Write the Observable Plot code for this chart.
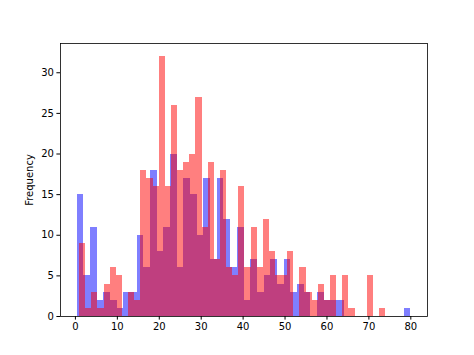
<!DOCTYPE html>
<html><head><meta charset="utf-8">
<script src="https://cdn.jsdelivr.net/npm/d3@7"></script>
<script src="https://cdn.jsdelivr.net/npm/@observablehq/plot@0.6"></script>
<style>
body{margin:0;background:#fff}
svg{font-family:"DejaVu Sans",sans-serif}
</style>
</head><body><div id="chart"></div>
<script>
// Histogram 1 (blue): 50 bins over its own data range
const blueRange = [0.42, 80];
const blueCounts = [15,5,11,2,3,2,1,3,3,10, 6,18,8,11,20,6,17,15,10,17, 7,17,12,6,11,2,7,3,5,7, 4,7,3,4,3,0,3,2,2,2, 0,0,0,0,0,0,0,0,0,1];
// Histogram 2 (red): 50 bins over its own data range
const redRange = [1, 74];
const redCounts = [9,1,3,1,4,6,5,0,3,2, 18,17,16,32,16,26,18,19,20,27, 11,19,7,18,6,5,16,6,11,6, 12,8,5,5,8,0,6,3,2,4, 2,5,0,5,1,0,0,5,0,1];
const xTicks = [0,10,20,30,40,50,60,70,80];
const yTicks = [0,5,10,15,20,25,30];
const yLabel = "Frequency";

function binsOf(range, counts) {
  const w = (range[1] - range[0]) / counts.length;
  return counts.map((c, i) => ({x1: range[0] + i * w, x2: range[0] + (i + 1) * w, y: c}));
}
const blueBins = binsOf(blueRange, blueCounts);
const redBins = binsOf(redRange, redCounts);

const xPad = (blueRange[1] - blueRange[0]) * 0.05;
const xDomain = [blueRange[0] - xPad, blueRange[1] + xPad];
const yMax = d3.max([...blueCounts, ...redCounts]) * 1.05;

const chart = Plot.plot({
  width: 474,
  height: 355,
  marginLeft: 60,
  marginRight: 47,
  marginTop: 43,
  marginBottom: 39,
  style: {fontFamily: "DejaVu Sans, sans-serif", fontSize: "10px", color: "#000", background: "#fff"},
  x: {domain: xDomain},
  y: {domain: [0, yMax]},
  marks: [
    Plot.rect(blueBins, {x1: "x1", x2: "x2", y1: 0, y2: "y", fill: "blue", fillOpacity: 0.5, shapeRendering: "crispEdges"}),
    Plot.rect(redBins, {x1: "x1", x2: "x2", y1: 0, y2: "y", fill: "red", fillOpacity: 0.5, shapeRendering: "crispEdges"}),
    Plot.frame({stroke: "#000", strokeWidth: 0.8}),
    Plot.axisX({ticks: xTicks, tickSize: 3.6, tickPadding: 3, label: null, tickFormat: d => String(d), stroke: "#000"}),
    Plot.axisY({ticks: yTicks, tickSize: 3.6, tickPadding: 3, label: yLabel, labelAnchor: "center", labelArrow: "none", labelOffset: 35, tickFormat: d => String(d), stroke: "#000"})
  ]
});
document.getElementById("chart").appendChild(chart);
</script>
</body></html>
